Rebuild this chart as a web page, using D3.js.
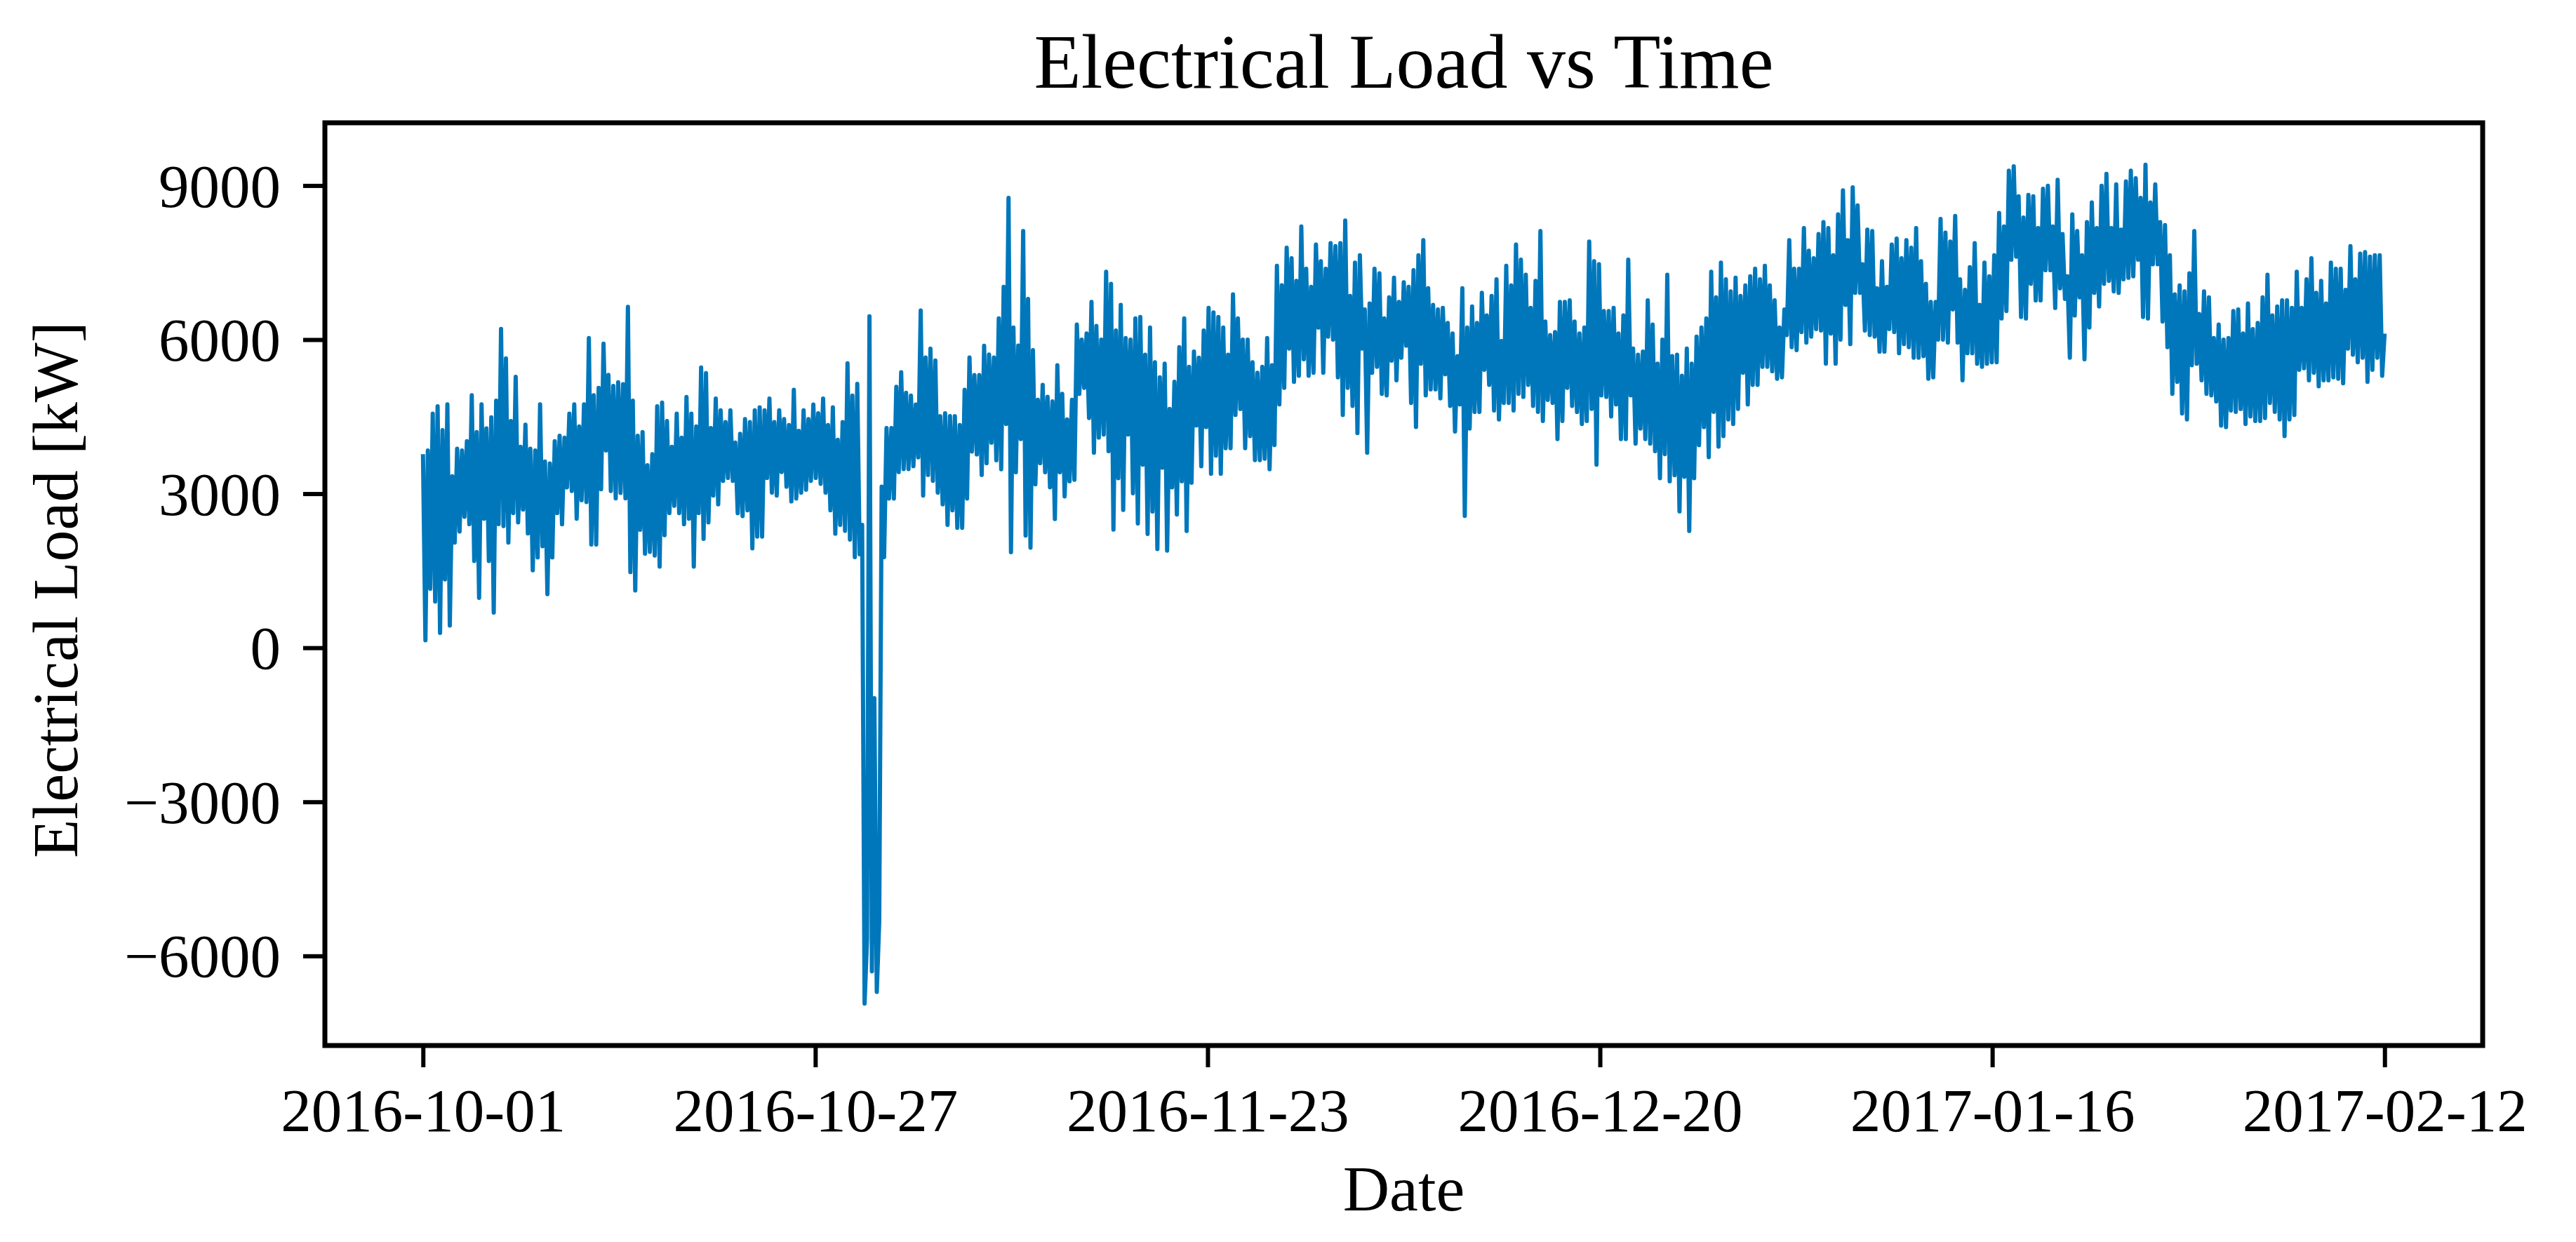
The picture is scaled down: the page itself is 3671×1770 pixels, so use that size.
<!DOCTYPE html>
<html><head><meta charset="utf-8">
<script src="https://cdn.jsdelivr.net/npm/d3@7"></script>
<style>html,body{margin:0;padding:0;background:#fff}svg{display:block}</style>
</head><body>
<svg id="chart" width="3671" height="1770"></svg>
<script>
// Electrical load [kW], one value every 4 hours starting 2016-10-01 00:00
// 2016-10-01 00:00 .. 2016-10-20 12:00
const loadPart1 = [3770,147,3841,1151,4559,900,4702,290,4236,1330,4738,433,3339,2048,3877,2263,3841,2550,4021,2406,
  4918,1689,4200,971,4738,2514,4272,1689,4487,684,4810,2406,6209,2370,5635,2048,4415,2622,5276,2442,
  3913,2693,4343,2227,3877,1509,3841,1760,4738,1976,3626,1043,3590,1760,4021,2622,4128,2406,4092,3124,
  4559,3052,4738,2514,4308,2873,4738,2837,6030,2012,4918,2012,5061,3088,5922,3841,5312,3052,5097,2909,
  5169,3016,5133,2909,6640,1473,4810,1115,4128,2299,4200,1832,3554,1868,3770,1796,4702,1581,4774,2191,
  4415,2622,3913,2765,4559,2622,4092,2406,4882,2514,4559,1581,4308,2622,5456,2119,5348,2442];
// 2016-10-20 16:00 .. 2016-11-09 04:00
const loadPart2 = [4280,2964,4852,2793,4623,3250,4394,3307,4623,3250,3994,2621,4165,2564,4451,2678,4394,1935,4623,2164,
  4680,2164,4623,3307,4852,3021,4394,2964,4623,3422,4451,3136,4337,2850,5023,2907,4223,3021,4623,3078,
  4451,3250,4737,3307,4566,3193,4852,3021,4337,2678,4680,2221,4051,2393,4394,2278,5538,2107,4909,1764,
  5138,1821,2393,-6928,-5670,6453,-6300,-981,-6700,-5327,3136,1764,4280,2907,4280,2907,5080,3422,5366,3479,
  4966,3479,4909,3536,4737,3708,6567,2964,5652,3365,5824,3250,5595,3021,4509,2793,4566,2393,4509,2678,
  4509,2336,4337,2336,5023,2907,5652,3822,5309,3765,5309,3365,5881,3594,5709,3994,5652,3651];
// 2016-11-09 08:00 .. 2016-11-29 12:00
const loadPart3 = [6412,3477,7028,4357,8760,1862,6235,3418,5883,4064,8114,2185,6793,1950,5795,3183,4827,3594,5120,3418,
  4885,3124,4797,2508,5502,3418,4944,2948,4445,3242,4827,3271,6294,4944,6001,5061,6118,4474,6735,3799,
  6265,4093,6001,4152,7322,3829,7087,2302,6177,3301,6676,2684,6030,4152,6001,3007,6412,2420,6441,3565,
  5707,2215,6235,2654,5560,1921,5267,3506,5531,1891,4650,3124,5179,2596,5854,3242,6412,2273,5472,3212,
  5766,4328,5648,3535,6177,4298,6617,3389,6529,3741,6441,3389,6235,3887,5707,3887,6881,4533,6412,4650,
  6001,3887,6001,4122,5560,3653,5355,3653,5472,3682,6030,3477,5502,3946,7439,4738,7058,5061,7791,5825,
  7586,5179];
// 2016-11-29 16:00 .. 2016-12-19 12:00
const loadPart4 = [7145,5296,8202,5619,7380,5296,7028,5355,7850,6235,7527,5355,7380,6059,7879,6001,7820,5267,7879,4533,
  8319,5061,6852,4709,7498,4181,7644,5825,6588,3799,6705,5355,7380,5472,7292,4944,6412,4915,6822,5590,
  7204,5208,6734,5648,7116,5883,7028,4768,7351,4298,7644,5531,7938,4915,6999,5032,6676,5032,6588,4856,
  6617,5326,6324,4709,6118,4210,5678,4739,6999,2567,6235,4269,6646,4592,6324,4592,6911,5414,6470,5120,
  6852,4621,7175,4445,5971,4768,7439,4768,7057,4621,7850,4944,7556,4885,7263,5120,6617,4709,7145,4592,
  8114,4416,6353,4827,6089,4768,6148,4064,6734,4416,6734,5061,6764,4709,6353,4592,6118,4357,6235,4416];
// 2016-12-19 16:00 .. 2017-01-08 12:00
const loadPart5 = [7908,4650,7527,3565,7468,4915,6558,4885,6558,4504,6617,4738,6118,4064,6470,4064,7556,4915,5825,3975,
  5707,4269,5766,4064,6764,3975,6294,3829,5531,3301,6001,3770,7263,3242,5678,3359,5707,2655,5296,3330,
  5825,2273,5531,3301,6059,3946,6235,4298,6412,3711,7322,4592,6823,3917,7498,4122,7175,4445,6940,4357,
  7204,4650,6852,5355,7057,4738,7233,5120,7380,5120,7175,5472,7439,5472,7057,5384,6764,5238,6235,5267,
  6588,6089,7938,5854,7380,5795,7380,6148,8173,5942,7732,6059,7586,6206,8055,6177,8290,5531,8173,6118,
  7644,5531,8437,6001,8906,6676,7938,5913,8965,6911,8613,6911,7468,6177,8143,6089,8114,6059,6999,5766];
// 2017-01-08 16:00 .. 2017-01-29 04:00
const loadPart6 = [7527,5766,7028,6206,7850,6147,7967,5736,7586,5913,7938,5854,7791,5648,8173,5648,7527,5678,7087,5238,
  6734,5267,6734,6001,8349,6001,8084,5942,7908,6588,8407,5942,7175,5208,6969,5736,7409,5736,7879,5531,
  6676,5472,7498,5531,7233,5560,7644,5560,8466,6412,8202,6558,9288,7556,9376,7615,8789,6441,8378,6412,
  8818,7087,8789,6764,8173,6764,8936,7351,8994,7351,8202,6617,9112,6999,8055,6793,7233,5648,8437,6470,
  8114,6823,7644,5619,8290,6235,8672,6911,8173,6646,8994,7087,9229,7145,8173,6940,9024,6911,8143,7175,
  9082,7204,9288,7233,9141,7556,8760,6441,9405,6412,8672,7468,9024,7468,8290,6353,8231,5854,7644,4944,
  6881,5179];
// 2017-01-29 08:00 .. 2017-02-12 00:00
const loadPart7 = [7057,4562,6940,4445,7292,5502,8114,5531,6500,5208,6940,4944,6823,4915,6030,4797,6294,4327,6001,4298,
  6030,4621,6558,4592,6588,4650,6118,4357,6705,4504,6206,4416,6324,4416,6823,4474,7263,4768,6470,4592,
  6646,4445,6764,4122,6764,4445,6617,4533,7322,5414,6617,5443,7175,5208,7586,5355,6911,5091,7145,5208,
  6705,5208,7498,5267,7380,5238,7380,5150,6969,5825,7820,5707,7175,5560,7674,5648,7703,5179,7615,5414,
  7644,5648,7644,5296,6118];

const seriesStart = "2016-10-01T00:00:00Z";
const stepHours = 4;

const xTickDates = ["2016-10-01T00:00:00Z","2016-10-27T19:12:00Z","2016-11-23T14:24:00Z",
                    "2016-12-20T09:36:00Z","2017-01-16T04:48:00Z","2017-02-12T00:00:00Z"];
const xTickLabels = ["2016-10-01","2016-10-27","2016-11-23","2016-12-20","2017-01-16","2017-02-12"];
const yTickValues = [-6000,-3000,0,3000,6000,9000];
const yTickLabels = ["\u22126000","\u22123000","0","3000","6000","9000"];

const titleText = "Electrical Load vs Time";
const xLabelText = "Date";
const yLabelText = "Electrical Load [kW]";

// ---------- drawing ----------
const load = [].concat(loadPart1, loadPart2, loadPart3, loadPart4, loadPart5, loadPart6, loadPart7);
const t0 = Date.parse(seriesStart);
const points = load.map((v, i) => ({ t: new Date(t0 + i * stepHours * 3600e3), v }));

const W = 3671, H = 1770;
const box = { left: 463, right: 3538, top: 175, bottom: 1490 };
const FONT = "'Liberation Serif','Times New Roman',serif";
const lineColor = "#0077bb";

const tExt = d3.extent(points, d => d.t.getTime());
const tSpan = tExt[1] - tExt[0];
const x = d3.scaleUtc()
  .domain([new Date(tExt[0] - 0.05 * tSpan), new Date(tExt[1] + 0.05 * tSpan)])
  .range([box.left, box.right]);
const vExt = d3.extent(load);
const vSpan = vExt[1] - vExt[0];
const y = d3.scaleLinear()
  .domain([vExt[0] - 0.05 * vSpan, vExt[1] + 0.05 * vSpan])
  .range([box.bottom, box.top]);

const svg = d3.select("#chart").attr("viewBox", `0 0 ${W} ${H}`);
svg.append("rect").attr("width", W).attr("height", H).attr("fill", "#fff");

svg.append("defs").append("clipPath").attr("id", "plotclip")
  .append("rect").attr("x", box.left).attr("y", box.top)
  .attr("width", box.right - box.left).attr("height", box.bottom - box.top);

const line = d3.line().x(d => x(d.t)).y(d => y(d.v));
svg.append("path")
  .datum(points)
  .attr("clip-path", "url(#plotclip)")
  .attr("d", line)
  .attr("fill", "none")
  .attr("stroke", lineColor)
  .attr("stroke-width", 6)
  .attr("stroke-linejoin", "round")
  .attr("stroke-linecap", "butt");

// axes
const tickLen = 31;
const xAxis = d3.axisBottom(x)
  .tickValues(xTickDates.map(s => new Date(s)))
  .tickFormat((d, i) => xTickLabels[i])
  .tickSize(tickLen).tickSizeOuter(0);
const gx = svg.append("g").attr("transform", `translate(0,${box.bottom})`).call(xAxis);
gx.select(".domain").remove();
gx.selectAll(".tick line").attr("stroke", "#000").attr("stroke-width", 6);
gx.selectAll(".tick text")
  .attr("y", 122).attr("dy", null)
  .attr("font-family", FONT).attr("font-size", 87).attr("fill", "#000");

const yAxis = d3.axisLeft(y)
  .tickValues(yTickValues)
  .tickFormat((d, i) => yTickLabels[i])
  .tickSize(tickLen).tickPadding(32).tickSizeOuter(0);
const gy = svg.append("g").attr("transform", `translate(${box.left},0)`).call(yAxis);
gy.select(".domain").remove();
gy.selectAll(".tick line").attr("stroke", "#000").attr("stroke-width", 6);
gy.selectAll(".tick text")
  .attr("dy", "0.34em")
  .attr("font-family", FONT).attr("font-size", 87).attr("fill", "#000");

// frame
svg.append("rect")
  .attr("x", box.left).attr("y", box.top)
  .attr("width", box.right - box.left).attr("height", box.bottom - box.top)
  .attr("fill", "none").attr("stroke", "#000").attr("stroke-width", 7);

// texts
const cx = (box.left + box.right) / 2;
svg.append("text").attr("x", cx).attr("y", 125)
  .attr("text-anchor", "middle").attr("font-family", FONT).attr("font-size", 110)
  .attr("fill", "#000").text(titleText);
svg.append("text").attr("x", cx).attr("y", 1725)
  .attr("text-anchor", "middle").attr("font-family", FONT).attr("font-size", 92)
  .attr("fill", "#000").text(xLabelText);
svg.append("text")
  .attr("transform", `translate(110,${(box.top + box.bottom) / 2 + 8}) rotate(-90)`)
  .attr("text-anchor", "middle").attr("font-family", FONT).attr("font-size", 90)
  .attr("fill", "#000").text(yLabelText);
</script>
</body></html>
